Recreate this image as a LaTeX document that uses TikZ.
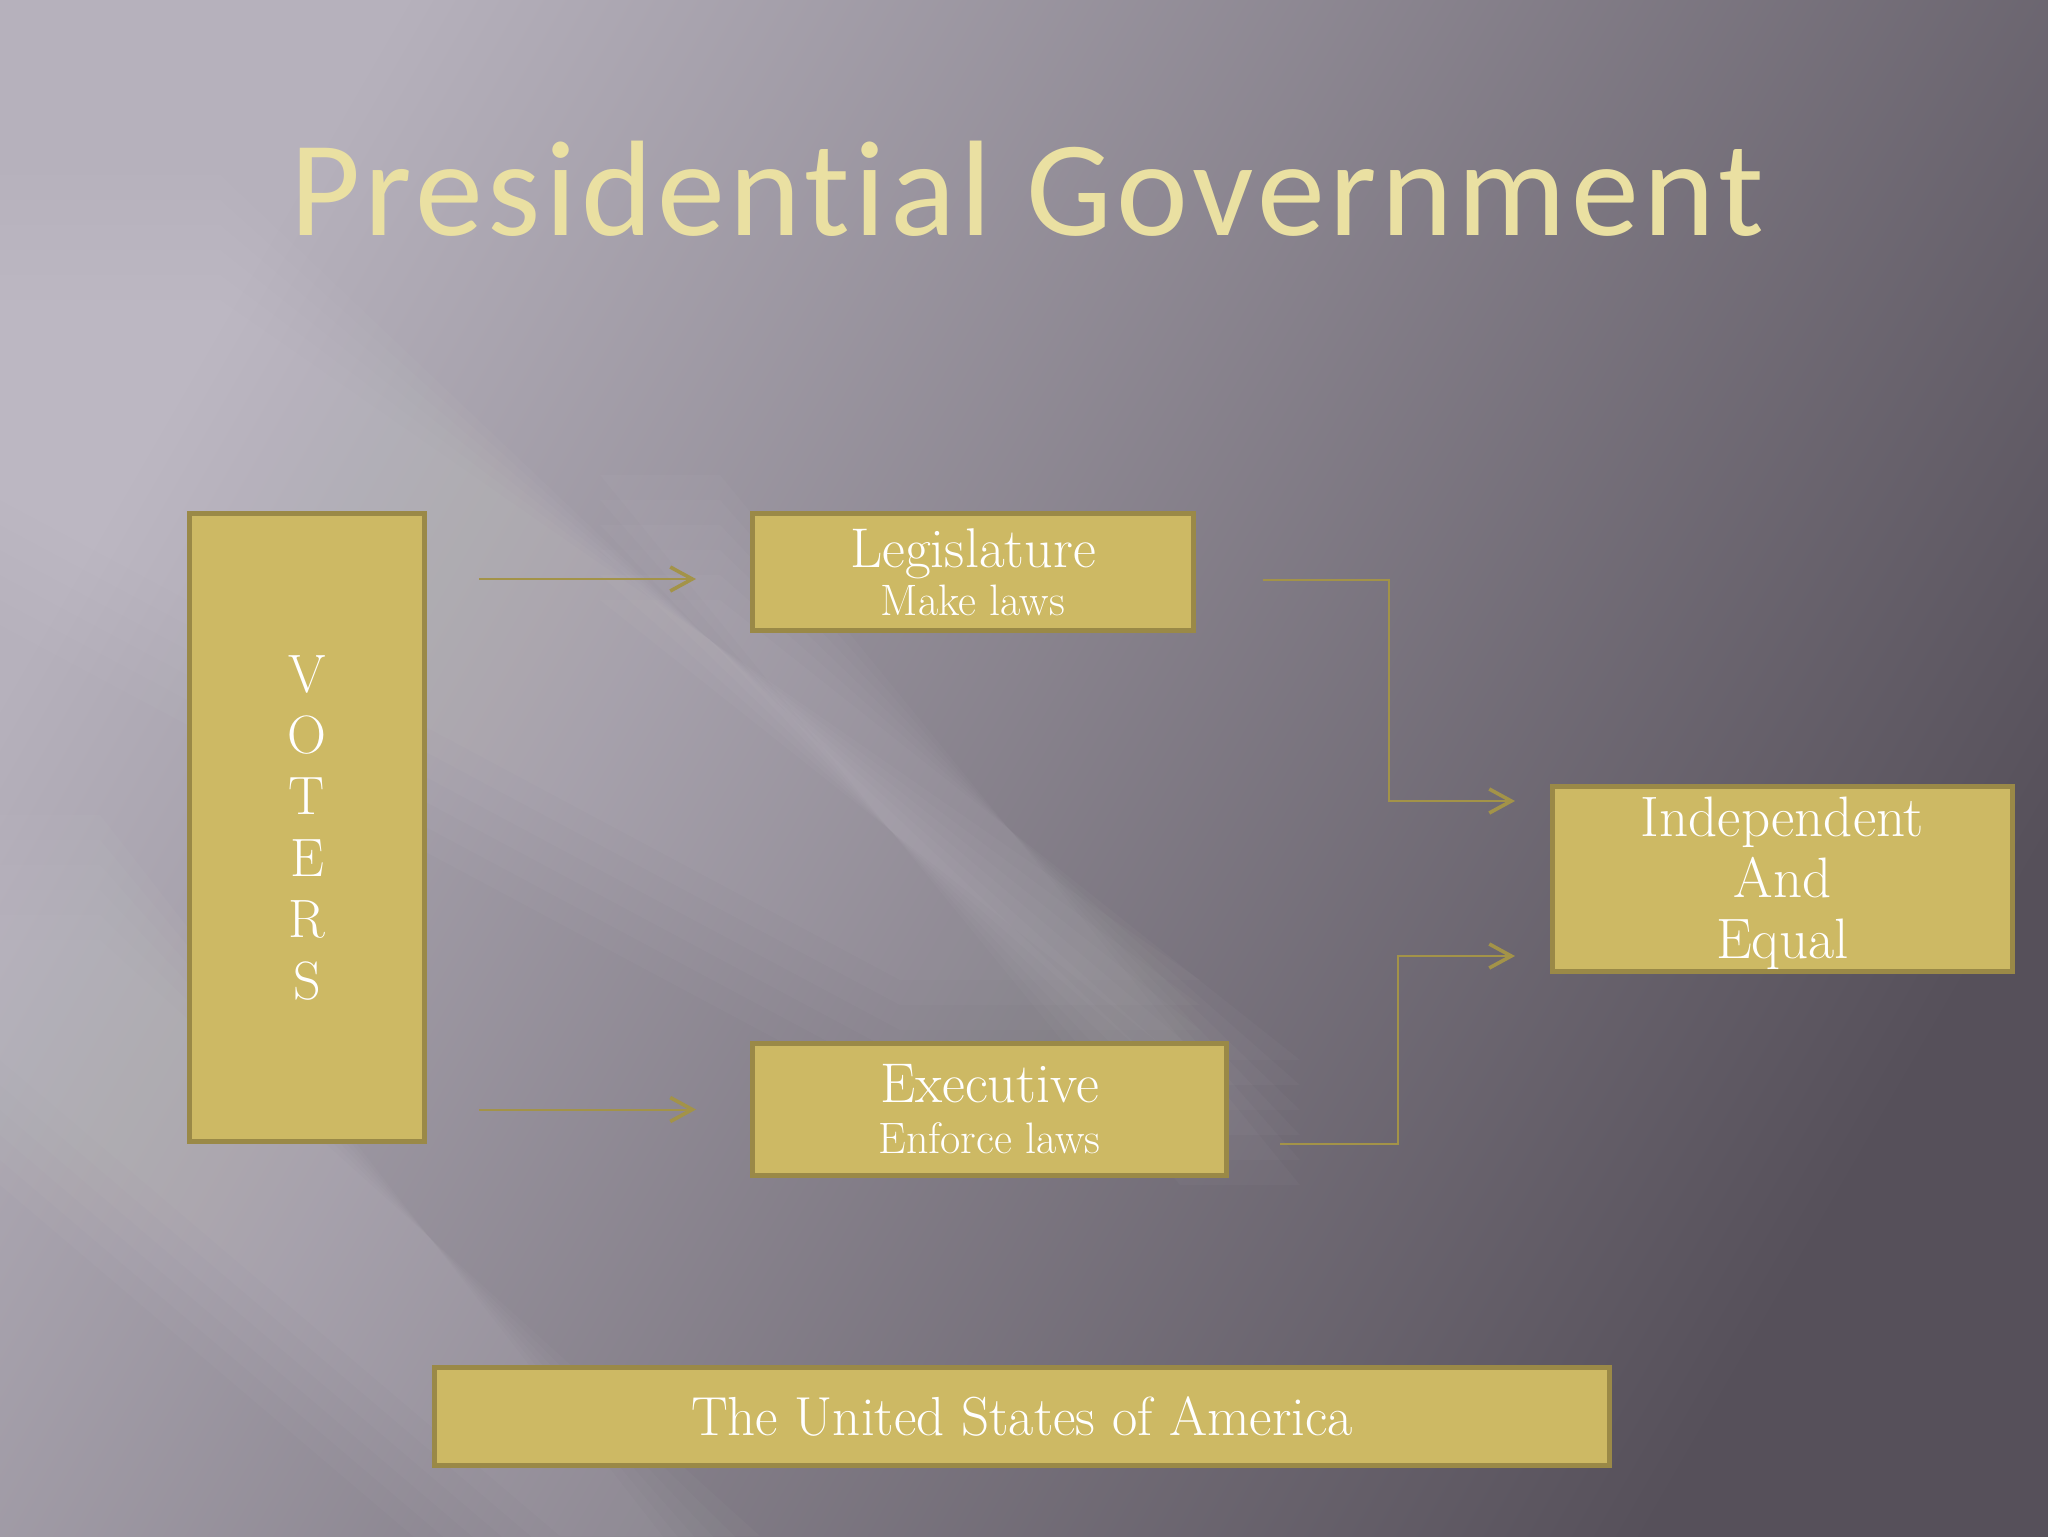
\documentclass[tikz,border=0pt]{standalone}
\usepackage{fontspec}
\newfontfamily\titlefont[Ligatures=NoCommon,LetterSpace=3.4]{Carlito}
\usetikzlibrary{arrows.meta,calc}
\definecolor{boxfill}{HTML}{CDB964}
\definecolor{boxedge}{HTML}{9A8947}
\definecolor{lineco}{HTML}{A39348}
\definecolor{bgA}{HTML}{B6B1BC}
\definecolor{bgM}{HTML}{74707A}
\definecolor{bgB}{HTML}{56505A}
\definecolor{titleco}{HTML}{EAE0A2}
\begin{document}
\begin{tikzpicture}[x=0.5pt,y=-0.5pt,
  gbox/.style={draw=boxedge, fill=boxfill, line width=2.5pt, inner sep=0pt, text=white, align=center},
  conn/.style={draw=lineco, line width=1pt, -{Straight Barb[length=11pt,width=12pt,line width=1.8pt]}},
  streak/.style={fill=white, opacity=0.022}]
\useasboundingbox (0,0) rectangle (2048,1536);
\shade[top color=bgA, middle color=bgM, bottom color=bgB, shading angle=60] (0,0) rectangle (2048,1536);
% soft diagonal streaks
\foreach \w in {0,25,50,75,100,125}{
  \fill[streak] (0,{300-\w}) -- (220,{300-\w}) -- (1200,{980+\w}) -- (900,{980+\w}) -- (0,{500+\w}) -- cycle;
  \fill[streak] (0,{940-\w}) -- (100,{940-\w}) -- (760,{1536+\w}) -- (560,{1536+\w}) -- (0,{1060+\w}) -- cycle;
  \fill[streak] (600,{600-\w}) -- (720,{600-\w}) -- (1300,{1060+\w}) -- (1180,{1060+\w}) -- cycle;
}
% title
\node[font=\titlefont\fontsize{68}{68}\selectfont, text=titleco, anchor=base] (title) at (1027,235) {Presidential Government};
% boxes
\node[gbox, minimum width=117.5pt, minimum height=314pt, font=\fontsize{27}{30.7}\selectfont] (voters) at (307,827.5) {V\\O\\T\\E\\R\\S};
\node[gbox, minimum width=220.5pt, minimum height=58.5pt, font=\fontsize{28}{24}\selectfont] (leg) at (973,572) {Legislature\\{\fontsize{22}{24}\selectfont Make laws}};
\node[gbox, minimum width=237pt, minimum height=66pt, font=\fontsize{28}{25.5}\selectfont] (exec) at (989.5,1109.5) {Executive\\{\fontsize{22}{25.5}\selectfont Enforce laws}};
\node[gbox, minimum width=230pt, minimum height=92.5pt, font=\fontsize{28.5}{30.7}\selectfont] (indep) at (1782.5,879) {\rule{0pt}{24pt}Independent\\And\\Equal};
\node[gbox, minimum width=587.5pt, minimum height=49pt, font=\fontsize{27.5}{32}\selectfont] (usa) at (1022,1416.5) {The United States of America};
% connectors
\draw[conn, shorten <=26pt, shorten >=27pt] ([yshift=-3.5pt]voters.east |- leg.west) -- ([yshift=-3.5pt]leg.west);
\draw[conn, shorten <=26pt, shorten >=27pt] (voters.east |- exec.west) -- (exec.west);
\coordinate (s1) at ([xshift=33.5pt,yshift=-4pt]leg.east);
\coordinate (t1) at ([xshift=-17.5pt,yshift=39pt]indep.west);
\coordinate (s2) at ([xshift=25.5pt,yshift=-17pt]exec.east);
\coordinate (t2) at ([xshift=-17.5pt,yshift=-38.5pt]indep.west);
\draw[conn] (s1) -| ($(s1)!.5!(t1)$) |- (t1);
\draw[conn] (s2) -| ($(s2)!.5!(t2)$) |- (t2);
\end{tikzpicture}
\end{document}
